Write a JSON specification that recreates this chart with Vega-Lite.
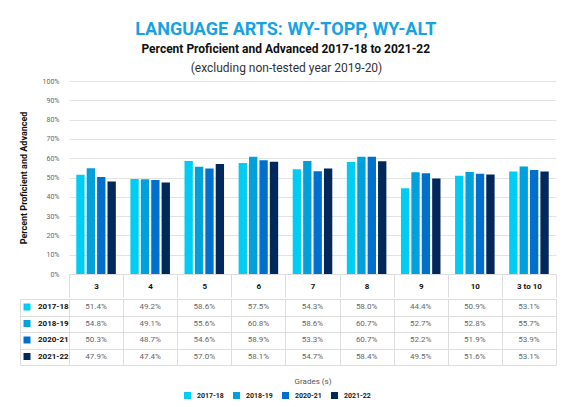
{
  "$schema": "https://vega.github.io/schema/vega-lite/v6.json",
  "padding": {"left": 19, "right": 7, "top": 21, "bottom": 5},
  "background": "white",
  "config": {"font": "Roboto", "view": {"stroke": null}, "concat": {"spacing": 0}},
  "title": {
    "text": "LANGUAGE ARTS: WY-TOPP, WY-ALT",
    "subtitle": "Percent Proficient and Advanced 2017-18 to 2021-22",
    "fontSize": 18, "fontWeight": "bold", "color": "#17a3e3",
    "subtitleFontSize": 12, "subtitleFontWeight": "bold", "subtitleColor": "#111",
    "subtitlePadding": 5, "offset": 7, "anchor": "middle", "dx": -2
  },
  "data": {"values": [
    {"grade": "3", "year": "2017-18", "p": 0.514}, {"grade": "3", "year": "2018-19", "p": 0.548}, {"grade": "3", "year": "2020-21", "p": 0.503}, {"grade": "3", "year": "2021-22", "p": 0.479},
    {"grade": "4", "year": "2017-18", "p": 0.492}, {"grade": "4", "year": "2018-19", "p": 0.491}, {"grade": "4", "year": "2020-21", "p": 0.487}, {"grade": "4", "year": "2021-22", "p": 0.474},
    {"grade": "5", "year": "2017-18", "p": 0.586}, {"grade": "5", "year": "2018-19", "p": 0.556}, {"grade": "5", "year": "2020-21", "p": 0.546}, {"grade": "5", "year": "2021-22", "p": 0.570},
    {"grade": "6", "year": "2017-18", "p": 0.575}, {"grade": "6", "year": "2018-19", "p": 0.608}, {"grade": "6", "year": "2020-21", "p": 0.589}, {"grade": "6", "year": "2021-22", "p": 0.581},
    {"grade": "7", "year": "2017-18", "p": 0.543}, {"grade": "7", "year": "2018-19", "p": 0.586}, {"grade": "7", "year": "2020-21", "p": 0.533}, {"grade": "7", "year": "2021-22", "p": 0.547},
    {"grade": "8", "year": "2017-18", "p": 0.580}, {"grade": "8", "year": "2018-19", "p": 0.607}, {"grade": "8", "year": "2020-21", "p": 0.607}, {"grade": "8", "year": "2021-22", "p": 0.584},
    {"grade": "9", "year": "2017-18", "p": 0.444}, {"grade": "9", "year": "2018-19", "p": 0.527}, {"grade": "9", "year": "2020-21", "p": 0.522}, {"grade": "9", "year": "2021-22", "p": 0.495},
    {"grade": "10", "year": "2017-18", "p": 0.509}, {"grade": "10", "year": "2018-19", "p": 0.528}, {"grade": "10", "year": "2020-21", "p": 0.519}, {"grade": "10", "year": "2021-22", "p": 0.516},
    {"grade": "3 to 10", "year": "2017-18", "p": 0.531}, {"grade": "3 to 10", "year": "2018-19", "p": 0.557}, {"grade": "3 to 10", "year": "2020-21", "p": 0.539}, {"grade": "3 to 10", "year": "2021-22", "p": 0.531}
  ]},
  "vconcat": [
    {
      "width": 487,
      "height": 193,
      "title": {"text": "(excluding non-tested year 2019-20)", "fontSize": 12, "fontWeight": "normal", "color": "#333", "offset": 2, "dx": -26},
      "mark": {"type": "bar"},
      "encoding": {
        "x": {
          "field": "grade", "type": "nominal",
          "sort": ["3", "4", "5", "6", "7", "8", "9", "10", "3 to 10"],
          "scale": {"paddingInner": 0, "paddingOuter": 0},
          "axis": {
            "title": null, "labelAngle": 0, "labelFontWeight": "bold", "labelFontSize": 8, "labelColor": "#111",
            "domainColor": "#ddd", "tickColor": "#ddd", "tickBand": "extent", "tickSize": 23, "labelPadding": -15
          }
        },
        "xOffset": {"field": "year", "type": "nominal", "scale": {"paddingInner": 0.2, "paddingOuter": 0.7}},
        "y": {
          "field": "p", "type": "quantitative",
          "scale": {"domain": [0, 1]},
          "axis": {
            "title": "Percent Proficient and Advanced",
            "format": ".0%",
            "values": [0, 0.1, 0.2, 0.3, 0.4, 0.5, 0.6, 0.7, 0.8, 0.9, 1],
            "labelFontSize": 7, "labelColor": "#666", "labelPadding": 10,
            "ticks": false, "domain": false, "gridColor": "#e3e3e3",
            "titleFontSize": 9, "titleFontWeight": "bold", "titleColor": "#111", "titlePadding": 14
          }
        },
        "color": {
          "field": "year", "type": "nominal",
          "scale": {"domain": ["2017-18", "2018-19", "2020-21", "2021-22"], "range": ["#00cdf3", "#00a0dc", "#0070cc", "#00285a"]},
          "legend": {
            "title": null, "orient": "none", "legendX": 115, "legendY": 311, "direction": "horizontal",
            "symbolType": "square", "symbolSize": 49, "symbolStrokeWidth": 0,
            "labelFontSize": 7, "labelFontWeight": "bold", "labelColor": "#222",
            "columnPadding": 9, "labelOffset": 6
          }
        }
      }
    },
    {
      "width": 487,
      "height": 66,
      "encoding": {
        "x": {
          "field": "grade", "type": "nominal",
          "sort": ["3", "4", "5", "6", "7", "8", "9", "10", "3 to 10"],
          "scale": {"paddingInner": 0, "paddingOuter": 0},
          "axis": {
            "title": "Grades (s)", "titleFontSize": 8, "titleFontWeight": "normal", "titleColor": "#555", "titlePadding": 12,
            "labels": false, "ticks": false, "domain": false,
            "grid": true, "gridColor": "#ddd", "tickBand": "extent"
          }
        }
      },
      "layer": [
        {
          "mark": {"type": "text", "fontSize": 8, "color": "#666"},
          "encoding": {
            "y": {
              "field": "year", "type": "nominal",
              "scale": {"paddingInner": 0, "paddingOuter": 0},
              "axis": {
                "title": null, "labels": false, "domain": false,
                "ticks": true, "tickSize": 49, "tickColor": "#ddd",
                "grid": true, "gridColor": "#ddd", "tickBand": "extent"
              }
            },
            "text": {"field": "p", "type": "quantitative", "format": ".1%"}
          }
        },
        {
          "mark": {"type": "square", "opacity": 0},
          "encoding": {
            "y": {
              "field": "year", "type": "nominal",
              "axis": {
                "orient": "left", "offset": 49, "title": null, "labels": false, "ticks": false,
                "grid": false, "domain": true, "domainColor": "#ddd"
              }
            },
            "fill": {
              "field": "year", "type": "nominal",
              "scale": {"domain": ["2017-18", "2018-19", "2020-21", "2021-22"], "range": ["#00cdf3", "#00a0dc", "#0070cc", "#00285a"]},
              "legend": {
                "title": null, "orient": "none", "legendX": -46, "legendY": 4, "padding": 0,
                "direction": "vertical", "symbolType": "square", "symbolSize": 49, "symbolOpacity": 1, "symbolStrokeWidth": 0,
                "labelFontSize": 8, "labelFontWeight": "bold", "labelColor": "#111",
                "rowPadding": 8.5, "labelOffset": 7
              }
            }
          }
        }
      ],
      "resolve": {"axis": {"y": "independent"}}
    }
  ],
  "resolve": {"scale": {"x": "independent"}, "legend": {"fill": "independent"}}
}
